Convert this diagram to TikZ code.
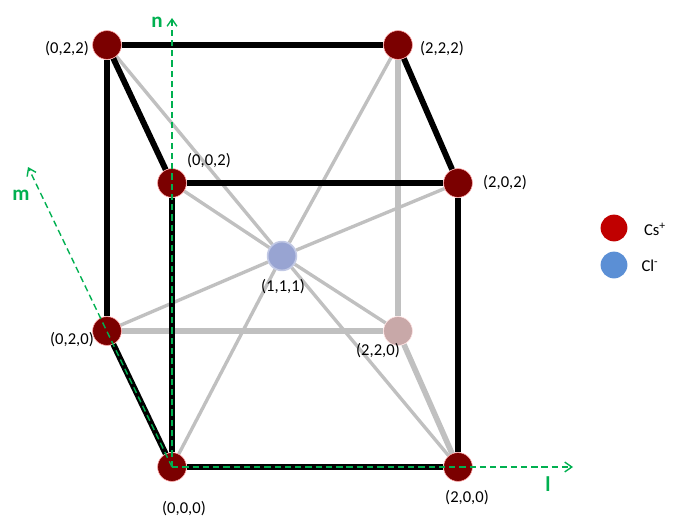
\documentclass[tikz,border=0pt]{standalone}
\usepackage{xcolor}
\usepackage{fontspec}
\setmainfont{Carlito}
\usepackage{tikz}
\usetikzlibrary{arrows.meta,backgrounds}
\definecolor{atomred}{HTML}{7B0000}
\definecolor{atomfade}{HTML}{C8A8A8}
\definecolor{centreblue}{HTML}{98A4D2}
\definecolor{legendred}{HTML}{C00000}
\definecolor{legendblue}{HTML}{5B8FD5}
\definecolor{axisgreen}{HTML}{00B050}
\definecolor{bondgray}{HTML}{C0C0C0}
\tikzset{
  atom/.style={circle,inner sep=0pt,minimum size=0.72cm,fill=atomred,draw=red!35,line width=0.4pt},
  coord/.style={font=\fontsize{11.8}{13}\selectfont,inner sep=0pt},
  edge/.style={black,line width=4.2pt},
  diag/.style={bondgray,line width=2.4pt},
  hidden/.style={bondgray,line width=4pt},
  axis/.style={axisgreen,dash pattern=on 4.5pt off 2.8pt,line width=1pt,-{Straight Barb[length=5pt,width=7pt]}},
  axislabel/.style={text=axisgreen,font=\fontsize{15}{17}\selectfont\bfseries,inner sep=0pt},
}
\begin{document}
\begin{tikzpicture}
\useasboundingbox (0,0) rectangle (17.025,13.15);

\node[atom] (c000) at (4.3,1.475) {};
\node[atom] (c200) at (11.45,1.475) {};
\node[atom] (c020) at (2.675,4.875) {};
\node[atom,fill=atomfade,draw=red!12] (c220) at (9.95,4.875) {};
\node[atom] (c002) at (4.3,8.575) {};
\node[atom] (c202) at (11.45,8.575) {};
\node[atom] (c022) at (2.675,12.025) {};
\node[atom] (c222) at (9.95,12.025) {};
\node[atom,fill=centreblue,draw=centreblue!60!white,line width=1.2pt] (c111) at (7.05,6.75) {};

\begin{pgfonlayer}{background}
\draw[diag] (c022) -- (c111);
\draw[diag] (c111) -- (c200);
\draw[diag] (c002) -- (c111);
\draw[diag] (c111) -- (c220);
\draw[diag] (c020) -- (c111);
\draw[diag] (c111) -- (c202);
\draw[diag] (c000) -- (c111);
\draw[diag] (c111) -- (c222);
\draw[hidden] (c020) -- (c220);
\draw[hidden] (c222) -- (c220);
\draw[hidden] (c220) -- (c200);

\draw[edge] (c022) -- (c222);
\draw[edge] (c222) -- (c202);
\draw[edge] (c202) -- (c002);
\draw[edge] (c022) -- (c002);
\draw[edge] (c022) -- (c020);
\draw[edge] (c020) -- (c000);
\draw[edge] (c000) -- (c200);
\draw[edge] (c200) -- (c202);
\draw[edge] (c002) -- (c000);
\end{pgfonlayer}

\coordinate (nend) at (4.3,12.7);
\coordinate (mend) at (0.7,8.975);
\coordinate (lend) at (14.325,1.475);
\draw[axis] (c000.center) -- (nend);
\draw[axis] (c000.center) -- (mend);
\draw[axis] (c000.center) -- (lend);
\node[axislabel] (nlabel) at (3.925,12.6) {n};
\node[axislabel] (mlabel) at (0.525,8.275) {m};
\node[axislabel] (llabel) at (13.7,1.05) {l};

\node[coord] (t022) at (1.675,11.925) {(0,2,2)};
\node[coord] (t002) at (5.225,9.125) {(0,0,2)};
\node[coord] (t222) at (11.05,11.925) {(2,2,2)};
\node[coord] (t202) at (12.625,8.575) {(2,0,2)};
\node[coord] (t111) at (7.075,5.975) {(1,1,1)};
\node[coord] (t020) at (1.8,4.65) {(0,2,0)};
\node[coord] (t220) at (9.45,4.375) {(2,2,0)};
\node[coord] (t000) at (4.6,0.425) {(0,0,0)};
\node[coord] (t200) at (11.675,0.7) {(2,0,0)};

\node[circle,inner sep=0pt,minimum size=0.67cm,fill=legendred] (cs) at (15.35,7.45) {};
\node[circle,inner sep=0pt,minimum size=0.67cm,fill=legendblue] (cl) at (15.35,6.525) {};
\node[coord] (cstext) at (16.375,7.425) {Cs\textsuperscript{+}};
\node[coord] (cltext) at (16.25,6.5) {Cl\textsuperscript{-}};
\end{tikzpicture}
\end{document}
